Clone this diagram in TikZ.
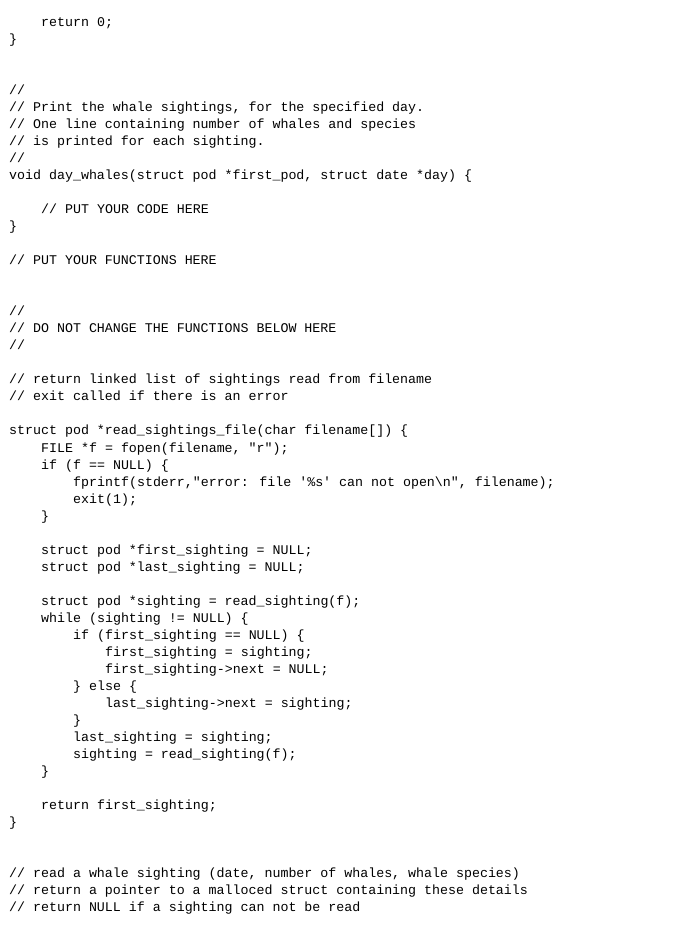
\documentclass[tikz,border=0pt]{standalone}
\usepackage{fontspec}
\newfontfamily\cf{Liberation Mono}
\tikzset{code/.style={anchor=base west,inner sep=0pt,font=\cf\fontsize{13.3}{15}\selectfont,text=black}}
\newcommand{\cl}[3]{\node[code] (l#1) at ({9+#2*32},{-(26.5+17.02*(#1-1))}) {#3};}
\begin{document}
\begin{tikzpicture}[x=1pt,y=1pt]
\useasboundingbox[fill=white] (0,0) rectangle (676,-925);
\cl{1}{1}{return 0;}
\cl{2}{0}{\}}
\cl{5}{0}{//}
\cl{6}{0}{// Print the whale sightings, for the specified day.}
\cl{7}{0}{// One line containing number of whales and species}
\cl{8}{0}{// is printed for each sighting.}
\cl{9}{0}{//}
\cl{10}{0}{void day\_whales(struct pod *first\_pod, struct date *day) \{}
\cl{12}{1}{// PUT YOUR CODE HERE}
\cl{13}{0}{\}}
\cl{15}{0}{// PUT YOUR FUNCTIONS HERE}
\cl{18}{0}{//}
\cl{19}{0}{// DO NOT CHANGE THE FUNCTIONS BELOW HERE}
\cl{20}{0}{//}
\cl{22}{0}{// return linked list of sightings read from filename}
\cl{23}{0}{// exit called if there is an error}
\cl{25}{0}{struct pod *read\_sightings\_file(char filename[]) \{}
\cl{26}{1}{FILE *f = fopen(filename, "r");}
\cl{27}{1}{if (f == NULL) \{}
\cl{28}{2}{fprintf(stderr,"error: file '\%s' can not open\textbackslash n", filename);}
\cl{29}{2}{exit(1);}
\cl{30}{1}{\}}
\cl{32}{1}{struct pod *first\_sighting = NULL;}
\cl{33}{1}{struct pod *last\_sighting = NULL;}
\cl{35}{1}{struct pod *sighting = read\_sighting(f);}
\cl{36}{1}{while (sighting != NULL) \{}
\cl{37}{2}{if (first\_sighting == NULL) \{}
\cl{38}{3}{first\_sighting = sighting;}
\cl{39}{3}{first\_sighting->next = NULL;}
\cl{40}{2}{\} else \{}
\cl{41}{3}{last\_sighting->next = sighting;}
\cl{42}{2}{\}}
\cl{43}{2}{last\_sighting = sighting;}
\cl{44}{2}{sighting = read\_sighting(f);}
\cl{45}{1}{\}}
\cl{47}{1}{return first\_sighting;}
\cl{48}{0}{\}}
\cl{51}{0}{// read a whale sighting (date, number of whales, whale species)}
\cl{52}{0}{// return a pointer to a malloced struct containing these details}
\cl{53}{0}{// return NULL if a sighting can not be read}
\end{tikzpicture}
\end{document}
